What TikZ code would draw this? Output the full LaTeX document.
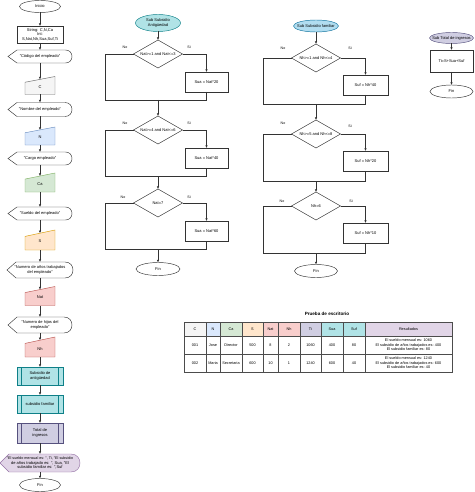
\documentclass[tikz,border=0pt]{standalone}
\usepackage{fontspec}
\setmainfont{Liberation Sans}
\usetikzlibrary{shapes.geometric,arrows.meta}
\definecolor{gfill}{HTML}{F5F5F5}\definecolor{gline}{HTML}{666666}
\definecolor{bfill}{HTML}{DAE8FC}\definecolor{bline}{HTML}{6C8EBF}
\definecolor{grfill}{HTML}{D5E8D4}\definecolor{grline}{HTML}{82B366}
\definecolor{ofill}{HTML}{FFE6CC}\definecolor{oline}{HTML}{D79B00}
\definecolor{rfill}{HTML}{F8CECC}\definecolor{rline}{HTML}{B85450}
\definecolor{cfill}{HTML}{B0E3E6}\definecolor{cline}{HTML}{0E8088}
\definecolor{lbfill}{HTML}{B1DDF0}\definecolor{lbline}{HTML}{10739E}
\definecolor{pfill}{HTML}{D0CEE2}\definecolor{pline}{HTML}{56517E}
\definecolor{mfill}{HTML}{E1D5E7}\definecolor{mline}{HTML}{9673A6}
\definecolor{edge}{HTML}{333333}
% display shape: name, cx, cy, w, h, style, text
\newcommand\Disp[7]{%
 \path[#6] ({#2-#4/2},#3) -- ({#2-#4/2+9},{#3-#5/2}) -- ({#2+#4/2-#5/2},{#3-#5/2})
   .. controls ({#2+#4/2+#5/6},{#3-#5/2}) and ({#2+#4/2+#5/6},{#3+#5/2}) .. ({#2+#4/2-#5/2},{#3+#5/2})
   -- ({#2-#4/2+9},{#3+#5/2}) -- cycle;
 \node[txt, minimum width=#4, minimum height=#5] (#1) at (#2,#3) {#7};}
% manual input: name, cx, cy, w, h, style, text
\newcommand\Manual[7]{%
 \path[#6] ({#2-#4/2},{#3+#5/2}) -- ({#2+#4/2},{#3+#5/2}) -- ({#2+#4/2},{#3-#5/2})
   -- ({#2-#4/2},{#3-#5/2+0.32*#5}) -- cycle;
 \node[txt, minimum width=#4, minimum height={0.84*#5}] (#1) at (#2,{#3+0.08*#5}) {#7};}
% table cell: name, x0, x1, y0, y1, fill, text
\newcommand\Cell[7]{%
 \node[cell, fill=#6, minimum width={#3-#2}, minimum height={#5-#4}] (#1) at ({(#2+#3)/2},{(#4+#5)/2}) {#7};}
\begin{document}
\begin{tikzpicture}[x=1pt,y=-1pt, font=\fontsize{4}{4.6}\selectfont,
 ln/.style={draw=edge, line width=0.45pt},
 arr/.style={ln, -{Latex[length=2.6pt,width=2.4pt]}},
 txt/.style={inner sep=0pt, outer sep=0pt, align=center},
 shp/.style={draw=edge, line width=0.45pt, fill=#1},
 box/.style={txt, draw=edge, line width=0.45pt, rectangle, fill=white},
 term/.style={txt, draw=edge, line width=0.45pt, ellipse, fill=white},
 dec/.style={txt, draw=edge, line width=0.45pt, diamond, fill=white, minimum width=49, minimum height=28},
 lab/.style={inner sep=0pt, font=\fontsize{3.6}{4}\selectfont},
 cell/.style={draw=black!70, line width=0.4pt, inner sep=0pt, outer sep=0pt, align=center, font=\fontsize{3.8}{4.5}\selectfont},
]
\useasboundingbox (0,0) rectangle (474,492);
% ---------------- main program ----------------
\node[term, minimum width=41, minimum height=12] (ini) at (40,6.5) {Inicio};
\node[box, minimum width=46, minimum height=17] (str) at (40,34.5) {String: C,N,Ca\\Int:\\S,Nat,Nh,Sua,Suf,Ti};
\Disp{p1}{40}{56.5}{64}{13}{shp=white}{"Código del empleado"}
\Manual{c}{40}{85.5}{30}{18}{shp=gfill, draw=gline}{C}
\Disp{p2}{40}{109.5}{64}{14}{shp=white}{"Nombre del empleado"}
\Manual{n}{40}{136}{30}{18}{shp=bfill, draw=bline}{N}
\Disp{p3}{40}{158.5}{64}{13}{shp=white}{"Cargo empleado"}
\Manual{ca}{40}{182.5}{30}{19}{shp=grfill, draw=grline}{Ca}
\Disp{p4}{40}{213.5}{64}{13}{shp=white}{"Sueldo del empleado"}
\Manual{s}{40}{240}{30}{20}{shp=ofill, draw=oline}{S}
\Disp{p5}{40}{270}{66}{16}{shp=white}{"Numero de años trabajados\\del empleado"}
\Manual{nat}{40}{296}{30}{19}{shp=rfill, draw=rline}{Nat}
\Disp{p6}{40}{325}{64}{16}{shp=white}{"Numero de hijos del\\empleado"}
\Manual{nh}{40}{347}{30}{20}{shp=rfill, draw=rline}{Nh}
\node[box, fill=cfill, draw=cline, minimum width=46, minimum height=18] (sa) at (40,376) {Subsidio de\\antigüedad};
\node[box, fill=cfill, draw=cline, minimum width=46, minimum height=18] (sf) at (40,404) {subsidio familiar};
\node[box, fill=pfill, draw=pline, minimum width=46, minimum height=20] (ti) at (40,433) {Total de\\ingresos};
\foreach \b/\c in {sa/cline, sf/cline, ti/pline}{
  \draw[draw=\c, line width=0.45pt] ([xshift=4.5pt]\b.north west) -- ([xshift=4.5pt]\b.south west);
  \draw[draw=\c, line width=0.45pt] ([xshift=-4.5pt]\b.north east) -- ([xshift=-4.5pt]\b.south east);}
\Disp{out}{40}{463}{80}{18}{shp=mfill, draw=mline}{\fontsize{3.7}{4.4}\selectfont "El sueldo mensual es: ", Ti, "El subsidio\\de años trabajado es: ", Sua, "El\\subsidio familiar es: ",Suf}
\node[term, minimum width=41, minimum height=13] (fin) at (40,485) {Fin};
\foreach \a/\b in {ini/str, str/p1, p1/c, c/p2, p2/n, n/p3, p3/ca, ca/p4, p4/s, s/p5, p5/nat, nat/p6, p6/nh, nh/sa, sa/sf, sf/ti, ti/out, out/fin}
  \draw[arr] (\a.south) -- (\b.north);
% ---------------- Sub Subsidio Antigüedad ----------------
\node[term, fill=cfill, draw=cline, minimum width=45, minimum height=17] (sA) at (158,23) {Sub Subsidio\\Antigüedad};
\node[dec] (a1) at (158,54) {\makebox[0pt]{Nat>=1 and Nat<=3}};
\node[dec] (a2) at (158,130) {\makebox[0pt]{Nat>=4 and Nat<=6}};
\node[dec] (a3) at (158,203) {\makebox[0pt]{Nat=7}};
\node[box, minimum width=43, minimum height=20] (ab1) at (206.5,82) {Sua = Nat*20};
\node[box, minimum width=43, minimum height=20] (ab2) at (206.5,158) {Sua = Nat*40};
\node[box, minimum width=43, minimum height=20] (ab3) at (206.5,231) {Sua = Nat*60};
\node[term, minimum width=44, minimum height=13] (afin) at (158,269) {Fin};
\foreach \i/\y in {1/100, 2/176, 3/249}{
  \coordinate (al\i) at (105,\y); \coordinate (ar\i) at (206.5,\y); \coordinate (am\i) at (158,\y);
  \draw[ln] (a\i.west) -| (al\i) -- (ar\i);
  \draw[arr] (a\i.east) -| (ab\i.north);
  \draw[ln] (ab\i.south) -- (ar\i);}
\node[lab] (ano1) at (125,47) {No}; \node[lab] (asi1) at (189,47) {Si};
\node[lab] (ano2) at (125,123) {No}; \node[lab] (asi2) at (189,123) {Si};
\node[lab] (ano3) at (123,197) {No}; \node[lab] (asi3) at (189,197) {Si};
\draw[arr] (sA) -- (a1);
\draw[arr] (am1) -- (a2.north);
\draw[arr] (am2) -- (a3.north);
\draw[arr] (am3) -- (afin.north);
% ---------------- Sub Subsidio familiar ----------------
\node[term, fill=lbfill, draw=lbline, minimum width=45, minimum height=12] (sF) at (316,26) {\makebox[0pt]{Sub Subsidio familiar}};
\node[dec] (f1) at (316,58) {\makebox[0pt]{Nh>=1 and Nh<=4}};
\node[dec] (f2) at (316,134) {\makebox[0pt]{Nh>=5 and Nh<=8}};
\node[dec] (f3) at (316,206) {\makebox[0pt]{Nh=6}};
\node[box, minimum width=45, minimum height=20] (fb1) at (365.5,85) {Suf = Nh*40};
\node[box, minimum width=45, minimum height=20] (fb2) at (365.5,161) {Suf = Nh*20};
\node[box, minimum width=45, minimum height=20] (fb3) at (365.5,233) {Suf = Nh*10};
\node[term, minimum width=43, minimum height=13] (ffin) at (316,271) {Fin};
\foreach \i/\y in {1/104, 2/181, 3/253}{
  \coordinate (fl\i) at (263,\y); \coordinate (fr\i) at (365.5,\y); \coordinate (fm\i) at (316,\y);
  \draw[ln] (f\i.west) -| (fl\i) -- (fr\i);
  \draw[arr] (f\i.east) -| (fb\i.north);
  \draw[ln] (fb\i.south) -- (fr\i);}
\node[lab] (fno1) at (283,48) {No}; \node[lab] (fsi1) at (350,48) {Si};
\node[lab] (fno2) at (283,123) {No}; \node[lab] (fsi2) at (350,126) {Si};
\node[lab] (fno3) at (282,201) {No}; \node[lab] (fsi3) at (351,201) {Si};
\draw[arr] (sF) -- (f1);
\draw[arr] (fm1) -- (f2.north);
\draw[arr] (fm2) -- (f3.north);
\draw[arr] (fm3) -- (ffin.north);
% ---------------- Sub Total de ingresos ----------------
\node[term, fill=pfill, draw=pline, minimum width=44, minimum height=11] (sT) at (451.5,38) {\makebox[0pt]{Sub Total de ingresos}};
\node[box, minimum width=43, minimum height=22] (tb) at (451.5,61) {Ti=S+Sua+Suf};
\node[term, minimum width=43, minimum height=13] (tfin) at (451.5,91.5) {Fin};
\draw[arr] (sT) -- (tb);
\draw[arr] (tb) -- (tfin);
% ---------------- Prueba de escritorio ----------------
\node[inner sep=0pt, font=\fontsize{4.6}{5}\selectfont\bfseries] (title) at (327,314) {Prueba de escritorio};
\Cell{h1}{184}{206}{322}{336}{gfill}{C}
\Cell{h2}{206}{220}{322}{336}{bfill}{N}
\Cell{h3}{220}{242}{322}{336}{grfill}{Ca}
\Cell{h4}{242}{263}{322}{336}{ofill}{S}
\Cell{h5}{263}{278}{322}{336}{rfill}{Nat}
\Cell{h6}{278}{300}{322}{336}{rfill}{Nh}
\Cell{h7}{300}{321}{322}{336}{pfill}{Ti}
\Cell{h8}{321}{343}{322}{336}{cfill}{Sua}
\Cell{h9}{343}{365}{322}{336}{cfill}{Suf}
\Cell{h10}{365}{452}{322}{336}{mfill}{Resultados}
\Cell{r11}{184}{206}{336}{354}{white}{001}
\Cell{r12}{206}{220}{336}{354}{white}{Jose}
\Cell{r13}{220}{242}{336}{354}{white}{Director}
\Cell{r14}{242}{263}{336}{354}{white}{500}
\Cell{r15}{263}{278}{336}{354}{white}{8}
\Cell{r16}{278}{300}{336}{354}{white}{2}
\Cell{r17}{300}{321}{336}{354}{white}{1060}
\Cell{r18}{321}{343}{336}{354}{white}{400}
\Cell{r19}{343}{365}{336}{354}{white}{80}
\Cell{r110}{365}{452}{336}{354}{white}{El sueldo mensual es: 1060\\El subsidio de años trabajados es: 400\\El subsidio familiar es: 80}
\Cell{r21}{184}{206}{354}{372}{white}{002}
\Cell{r22}{206}{220}{354}{372}{white}{Maria}
\Cell{r23}{220}{242}{354}{372}{white}{Secretaria}
\Cell{r24}{242}{263}{354}{372}{white}{600}
\Cell{r25}{263}{278}{354}{372}{white}{10}
\Cell{r26}{278}{300}{354}{372}{white}{1}
\Cell{r27}{300}{321}{354}{372}{white}{1240}
\Cell{r28}{321}{343}{354}{372}{white}{600}
\Cell{r29}{343}{365}{354}{372}{white}{40}
\Cell{r210}{365}{452}{354}{372}{white}{El sueldo mensual es: 1240\\El subsidio de años trabajados es: 600\\El subsidio familiar es: 40}
\end{tikzpicture}
\end{document}
